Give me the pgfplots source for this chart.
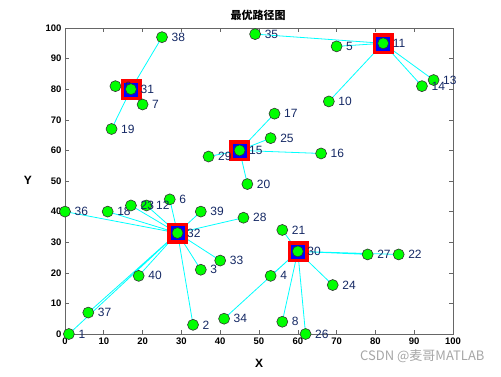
\documentclass[border=0pt]{standalone}
\usepackage{pgfplots}
\pgfplotsset{compat=1.18}
\usepackage{pgfplotstable}
\usepackage{fontspec}
\setmainfont{Liberation Sans}
\newfontfamily\cjk{Noto Sans CJK SC}
\definecolor{lab}{RGB}{20,40,100}
\definecolor{mgreen}{RGB}{0,255,0}
\definecolor{mcyan}{RGB}{0,255,255}
\pgfplotstableread{
x y id
1 0 1
33 3 2
35 21 3
53 19 4
70 94 5
27 44 6
20 75 7
56 4 8
13 81 9
68 76 10
82 95 11
21 42 12
95 83 13
92 81 14
45 60 15
66 59 16
54 72 17
11 40 18
12 67 19
47 49 20
56 34 21
86 26 22
17 42 23
69 16 24
53 64 25
62 0 26
78 26 27
46 38 28
37 58 29
60 27 30
17 80 31
29 33 32
40 24 33
41 5 34
49 98 35
0 40 36
6 7 37
25 97 38
35 40 39
19 19 40
}\pts
\pgfplotstableread{
x y
82 95
45 60
17 80
29 33
60 27
}\centers
\begin{document}
\begin{tikzpicture}[x=1pt,y=1pt]
\useasboundingbox (0,0) rectangle (501,376);
\begin{axis}[at={(65pt,42pt)}, anchor=south west, scale only axis,
  width=388pt, height=306pt,
  xmin=0, xmax=100, ymin=0, ymax=100,
  xtick={0,10,...,100}, ytick={0,10,...,100},
  tick align=inside, major tick length=4pt,
  axis line style={gray!80!black, line width=0.8pt},
  tick style={gray!80!black, line width=0.6pt},
  ticklabel style={font=\bfseries\fontsize{9.5}{9.5}\selectfont},
  /pgf/number format/assume math mode=true,
  clip=false]
% routes
\addplot[mcyan, line width=0.8pt] coordinates {(82,95)(49,98)(82,95)(70,94)(82,95)(68,76)(82,95)(92,81)(82,95)(95,83)};
\addplot[mcyan, line width=0.8pt] coordinates {(17,80)(25,97)(17,80)(13,81)(17,80)(20,75)(17,80)(12,67)};
\addplot[mcyan, line width=0.8pt] coordinates {(45,60)(37,58)(45,60)(54,72)(45,60)(53,64)(45,60)(66,59)(45,60)(47,49)};
\addplot[mcyan, line width=0.8pt] coordinates {(29,33)(0,40)(29,33)(11,40)(29,33)(17,42)(29,33)(21,42)(29,33)(27,44)(29,33)(35,40)(29,33)(46,38)(29,33)(40,24)(29,33)(35,21)(29,33)(33,3)(29,33)(19,19)(29,33)(6,7)(29,33)(1,0)};
\addplot[mcyan, line width=0.8pt] coordinates {(60,27)(56,34)(60,27)(78,26)(60,27)(86,26)(60,27)(69,16)(60,27)(56,4)(60,27)(62,0)(60,27)(53,19)(60,27)(41,5)};
% centers
\addplot[only marks, mark=square*, mark size=10pt, mark options={fill=red, draw=red}] table[x=x,y=y]{\centers};
\addplot[only marks, mark=square*, mark size=6.5pt, mark options={fill=blue, draw=blue}] table[x=x,y=y]{\centers};
% points
\addplot[only marks, mark=*, mark size=5.5pt, mark options={fill=mgreen, draw=black!80, line width=0.6pt},
  nodes near coords, point meta=explicit symbolic,
  every node near coord/.style={anchor=west, xshift=6pt, text=lab, font=\fontsize{12}{12}\selectfont}]
  table[x=x,y=y,meta=id]{\pts};
\end{axis}
\node[font=\cjk\bfseries\fontsize{11}{11}\selectfont] at (258,361) {最优路径图};
\node[font=\bfseries\fontsize{12}{12}\selectfont] at (259,13) {X};
\node[font=\bfseries\fontsize{12}{12}\selectfont] at (28,196) {Y};
\node[font=\cjk\fontsize{13}{13}\selectfont, text=gray!70, anchor=east] at (488,20) {CSDN @麦哥MATLAB};
\end{tikzpicture}
\end{document}
